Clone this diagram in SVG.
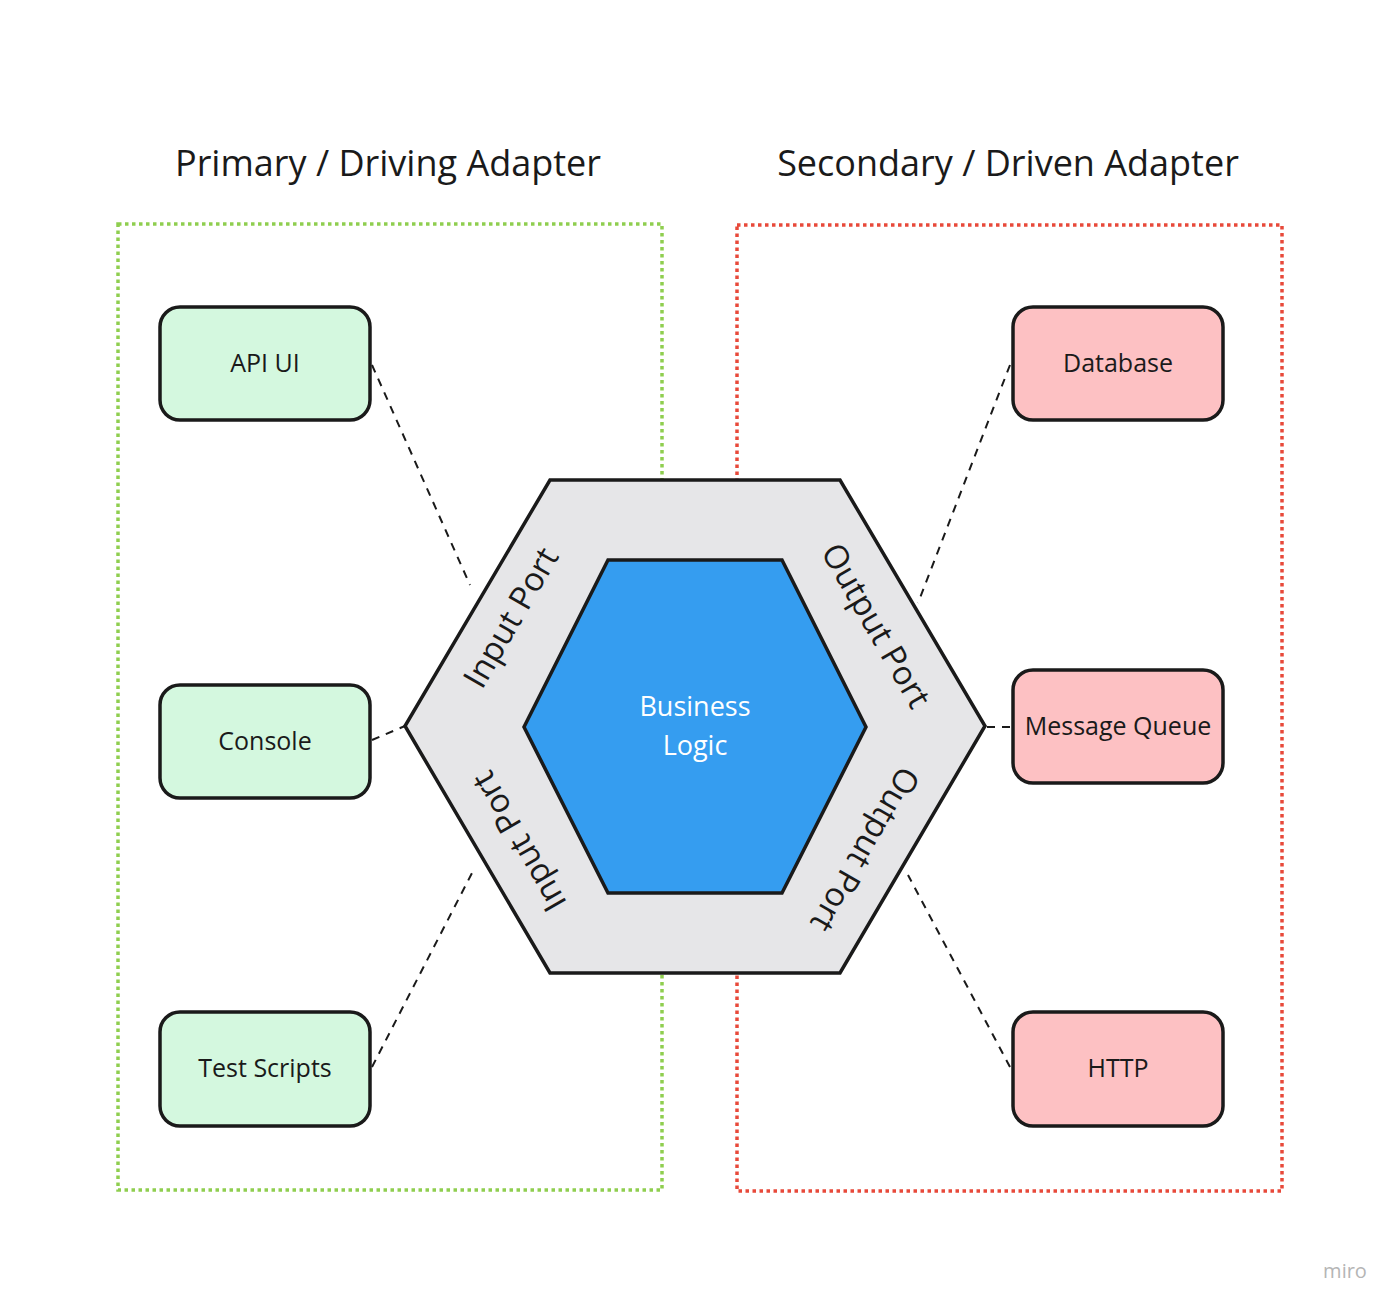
<svg xmlns="http://www.w3.org/2000/svg" width="1400" height="1308" viewBox="0 0 1400 1308">
<style>
text{font-family:"Open Sans","Noto Sans",sans-serif;fill:#1a1a1a}
.box rect{stroke:#1a1a1a;stroke-width:3.5}
.g rect{fill:#d4f8df}.r rect{fill:#fdc1c3}
.lbl{font-size:25px;text-anchor:middle;dominant-baseline:central}
.port{font-size:33px;text-anchor:middle;dominant-baseline:central}
.conn line{stroke:#1a1a1a;stroke-width:2;stroke-dasharray:8 7}
</style>
<rect width="1400" height="1308" fill="#fff"/>
<text x="388" y="162" font-size="36" text-anchor="middle" dominant-baseline="central">Primary / Driving Adapter</text>
<text x="1008" y="162" font-size="36" text-anchor="middle" dominant-baseline="central">Secondary / Driven Adapter</text>
<rect id="primary" x="118" y="224" width="544" height="966" fill="none" stroke="#8fce4f" stroke-width="3.5" stroke-dasharray="3.5 3.5"/>
<rect id="secondary" x="737" y="225" width="545" height="966" fill="none" stroke="#e8493a" stroke-width="3.5" stroke-dasharray="3.5 3.5"/>
<g class="conn">
<line x1="372" y1="365" x2="470" y2="585"/>
<line x1="372" y1="740" x2="405" y2="726"/>
<line x1="372" y1="1067" x2="472" y2="873"/>
<line x1="1010" y1="365" x2="918" y2="603"/>
<line x1="1010" y1="727" x2="985" y2="727"/>
<line x1="1010" y1="1067" x2="908" y2="875"/>
</g>
<g id="ports">
<polygon points="550,480 840,480 985,726 840,973 550,973 405,726" fill="#e6e6e8" stroke="#1a1a1a" stroke-width="3.5"/>
<text class="port" transform="translate(510,617) rotate(-60)">Input Port</text>
<text class="port" transform="translate(518,842) rotate(-120)">Input Port</text>
<text class="port" transform="translate(877,625) rotate(60)">Output Port</text>
<text class="port" transform="translate(866,850) rotate(120)">Output Port</text>
</g>
<g id="business">
<polygon points="608,560 782,560 866,727 782,893 608,893 524,727" fill="#359df0" stroke="#1a1a1a" stroke-width="3.5"/>
<text class="lbl" x="695" y="705" style="fill:#fff;font-size:27px">Business</text>
<text class="lbl" x="695" y="744" style="fill:#fff;font-size:27px">Logic</text>
</g>
<g id="apiui" class="box g"><rect x="160" y="307" width="210" height="113" rx="20"/><text class="lbl" x="265" y="362">API UI</text></g>
<g id="console" class="box g"><rect x="160" y="685" width="210" height="113" rx="20"/><text class="lbl" x="265" y="740">Console</text></g>
<g id="tests" class="box g"><rect x="160" y="1012" width="210" height="114" rx="20"/><text class="lbl" x="265" y="1067">Test Scripts</text></g>
<g id="db" class="box r"><rect x="1013" y="307" width="210" height="113" rx="20"/><text class="lbl" x="1118" y="362">Database</text></g>
<g id="mq" class="box r"><rect x="1013" y="670" width="210" height="113" rx="20"/><text class="lbl" x="1118" y="725">Message Queue</text></g>
<g id="http" class="box r"><rect x="1013" y="1012" width="210" height="114" rx="20"/><text class="lbl" x="1118" y="1067">HTTP</text></g>
<text x="1345" y="1270" font-size="20" text-anchor="middle" dominant-baseline="central" style="fill:#b5b5b5">miro</text>
</svg>
